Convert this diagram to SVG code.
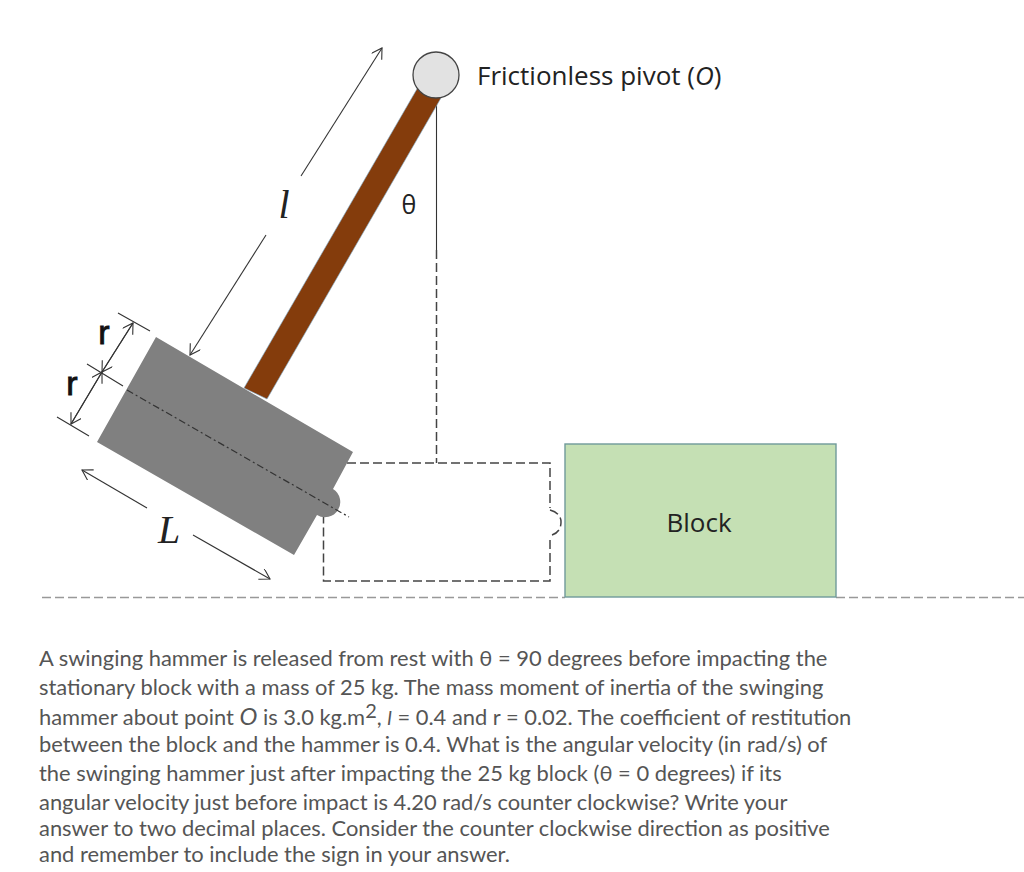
<svg xmlns="http://www.w3.org/2000/svg" width="1024" height="872" viewBox="0 0 1024 872">
<style>
.p{font-family:Lato,"Liberation Sans",sans-serif;font-size:21.9px;fill:#555}
.i{font-family:"Liberation Serif",serif;font-style:italic}
.o{font-style:italic}
.d{font-family:"Open Sans","Noto Sans",sans-serif;font-size:26px;fill:#222}
.r{font-family:"Liberation Sans",sans-serif;font-size:34px;fill:#111;stroke:#111;stroke-width:.9}
.a{fill:none;stroke:#333;stroke-width:1.1;marker-end:url(#h)}
.l{fill:none;stroke:#333;stroke-width:1.1}
.k{fill:none;stroke:#444;stroke-width:1.5;stroke-dasharray:9 4}
</style>
<defs>
<marker id="h" markerWidth="14" markerHeight="14" refX="11" refY="6" orient="auto" markerUnits="userSpaceOnUse"><path d="M1 0L11 6L1 12" fill="none" stroke="#333" stroke-width="1.1"/></marker>
</defs>
<rect width="1024" height="872" fill="#fff"/>
<g id="ground"><path d="M42 597.500H565M836 597.500H1024" fill="none" stroke="#999" stroke-width="1.3" stroke-dasharray="9 4"/></g>
<g id="block"><rect x="565" y="444" width="271" height="153" fill="#c5e0b4" stroke="#6f9a9a" stroke-width="1.4"/><text x="699" y="532" text-anchor="middle" class="d">Block</text></g>
<g id="connectors">
<path class="l" d="M436.500 100V250"/>
<path class="k" d="M436.500 250V463M347 463H550V508M550 510Q561 513 561 522Q561 532 552 535M550 540V581H323.500V516"/>
<path class="a" d="M301 176L382 48"/>
<path class="a" d="M266 235L190 355"/>
<path class="a" d="M147 508L82 470"/>
<path class="a" d="M193 535L270 579"/>
<path class="a" d="M102 372L133 323"/>
<path class="a" d="M133 323L102 372"/>
<path class="a" d="M102 372L71 424"/>
<path class="a" d="M71 424L102 372"/>
<path class="l" d="M118 313L150 331M87 364L123 386M57 417L89 436"/>
</g>
<g id="rod"><path d="M421 82L445 91L267 399L244 388Z" fill="#843c0c" stroke="#7da9c9" stroke-width=".6"/></g>
<g id="hammer">
<path d="M156 337L353 452L333 489A12.500 12.500 0 0 1 317 515L294 555L97 442Z" fill="#808080"/>
<path d="M127 390L349 517" fill="none" stroke="#333" stroke-width="1.2" stroke-dasharray="7 3 2 3"/>
</g>
<g id="pivot"><circle cx="436" cy="75" r="23" fill="#e2e2e2" stroke="#444" stroke-width="1.3"/></g>
<g id="labels">
<text x="477" y="85" class="d">Frictionless pivot (<tspan class="o">O</tspan>)</text>
<text x="409" y="214" text-anchor="middle" class="d" style="font-size:25px">θ</text>
<text x="284" y="218" text-anchor="middle" class="i" font-size="40" fill="#222">l</text>
<text x="169" y="543" text-anchor="middle" class="i" font-size="40" fill="#222">L</text>
<text x="104" y="344" text-anchor="middle" class="r">r</text>
<text x="72" y="395" text-anchor="middle" class="r">r</text>
</g>
<g id="question">
<text class="p" x="39" y="666">A swinging hammer is released from rest with θ = 90 degrees before impacting the</text>
<text class="p" x="39" y="695">stationary block with a mass of 25 kg. The mass moment of inertia of the swinging</text>
<text class="p" x="39" y="725">hammer about point <tspan class="o" font-size="24">O</tspan> is 3.0 kg.m<tspan dy="-7" font-size="20">2</tspan><tspan dy="7">, </tspan><tspan class="o" font-size="20">l</tspan> = 0.4 and r = 0.02. The coefficient of restitution</text>
<text class="p" x="39" y="752">between the block and the hammer is 0.4. What is the angular velocity (in rad/s) of</text>
<text class="p" x="39" y="781">the swinging hammer just after impacting the 25 kg block (θ = 0 degrees) if its</text>
<text class="p" x="39" y="810">angular velocity just before impact is 4.20 rad/s counter clockwise? Write your</text>
<text class="p" x="39" y="836">answer to two decimal places. Consider the counter clockwise direction as positive</text>
<text class="p" x="39" y="862">and remember to include the sign in your answer.</text>
</g>
</svg>
